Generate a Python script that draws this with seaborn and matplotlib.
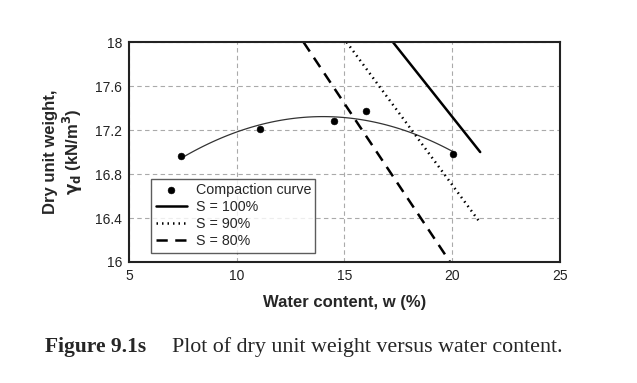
import numpy as np
import pandas as pd
import seaborn as sns
import matplotlib.pyplot as plt

# compaction test points
w_pts = [7.4, 11.1, 14.5, 16.0, 20.05]
gd_pts = [16.96, 17.21, 17.28, 17.37, 16.98]

# saturation lines (end points)
w_s100 = [17.25, 21.3]
gd_s100 = [18.0, 17.0]
w_s90 = [15.1, 21.25]
gd_s90 = [18.0, 16.37]
w_s80 = [13.1, 19.9]
gd_s80 = [18.0, 16.0]

sns.set_style("white")
plt.rcParams['font.family'] = ['Liberation Sans', 'DejaVu Sans']

fig = plt.figure(figsize=(6.37, 3.83), dpi=100)
ax = fig.add_axes([0.2025, 0.316, 0.6765, 0.574])

# smooth compaction curve (quadratic fit of the points)
coef = np.polyfit(w_pts, gd_pts, 2)
wc = np.linspace(min(w_pts), max(w_pts), 100)
curve = pd.DataFrame({'w': wc, 'gd': np.polyval(coef, wc)})
sns.lineplot(data=curve, x='w', y='gd', ax=ax, color='#333333', lw=0.9,
             label='_nolegend_')

pts = pd.DataFrame({'w': w_pts, 'gd': gd_pts})
sns.scatterplot(data=pts, x='w', y='gd', ax=ax, color='black', s=24,
                edgecolor='black', label='Compaction curve', zorder=5)

sns.lineplot(x=w_s100, y=gd_s100, ax=ax, color='black', lw=1.8, label='S = 100%')
sns.lineplot(x=w_s90, y=gd_s90, ax=ax, color='black', lw=1.8, ls=(0, (0.6, 1.6)),
             label='S = 90%')
sns.lineplot(x=w_s80, y=gd_s80, ax=ax, color='black', lw=1.8, ls=(0, (4.5, 3)),
             label='S = 80%')

ax.set_xlim(5, 25)
ax.set_ylim(16, 18)
ax.set_xticks([5, 10, 15, 20, 25])
ax.set_yticks([16, 16.4, 16.8, 17.2, 17.6, 18])
ax.set_yticklabels(['16', '16.4', '16.8', '17.2', '17.6', '18'])
ax.tick_params(length=0, labelsize=10, pad=5, colors='#222222')
ax.grid(True, ls=(0, (4, 3)), color='#aaaaaa', lw=0.8)
for s in ax.spines.values():
    s.set_color('#222222')
    s.set_linewidth(1.5)

ax.set_xlabel('Water content, w (%)', fontsize=12, fontweight='bold', labelpad=9)
ax.set_ylabel('Dry unit weight,\n$\\mathbf{\\gamma_d}$ (kN/m$^\\mathbf{3}$)',
              fontsize=12, fontweight='bold', labelpad=7)

leg = ax.legend(loc='lower left', bbox_to_anchor=(0.035, 0.01), fontsize=10.3,
                frameon=True, fancybox=False, edgecolor='#333333',
                handlelength=2.2, handletextpad=0.6, borderpad=0.3,
                labelspacing=0.22)
leg.get_frame().set_linewidth(1.0)

fig.text(0.071, 0.081, 'Figure 9.1s', family='Liberation Serif', fontsize=15.5,
         fontweight='bold')
fig.text(0.27, 0.081, 'Plot of dry unit weight versus water content.',
         family='Liberation Serif', fontsize=15.8)

fig.savefig('out.png', dpi=100)
